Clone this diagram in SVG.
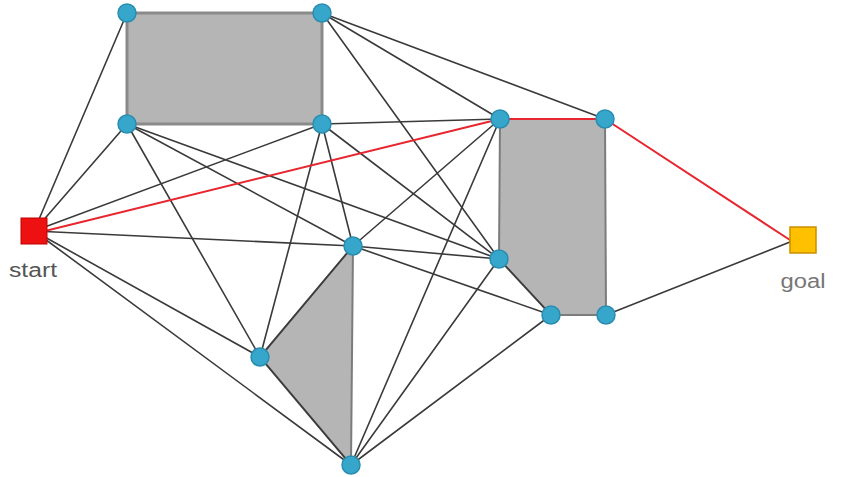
<svg xmlns="http://www.w3.org/2000/svg" width="850" height="477" viewBox="0 0 850 477">
<style>
.obs{fill:#b5b5b5;stroke:#7c7c7c;stroke-width:2;stroke-linejoin:round}
.rectobs{fill:#b5b5b5;stroke:#8a8a8a;stroke-width:3}
.e{stroke:#3a3a3a;stroke-width:1.6;fill:none;stroke-linecap:round}
.p{stroke:#e8262f;stroke-width:2;fill:none;stroke-linecap:round}
.n{fill:#36a7cb;stroke:#2a8db0;stroke-width:1.5}
.lbl{font-family:"Liberation Sans","DejaVu Sans",sans-serif;font-size:20px;text-anchor:middle}
</style>
<rect width="850" height="477" fill="#ffffff"/>
<g id="obstacles">
<rect id="obstacle1" class="rectobs" x="127" y="13" width="195" height="111"/>
<polygon id="obstacle2" class="obs" points="500,119 605,119 606,315 551,315 499,259"/>
<polygon id="obstacle3" class="obs" points="353,246 351,465 260,357"/>
</g>
<g id="connectors">
<line class="e" x1="34" y1="231" x2="127" y2="13"/>
<line class="e" x1="34" y1="231" x2="127" y2="124"/>
<line class="e" x1="34" y1="231" x2="322" y2="124"/>
<line class="e" x1="34" y1="231" x2="353" y2="246"/>
<line class="e" x1="34" y1="231" x2="260" y2="357"/>
<line class="e" x1="34" y1="231" x2="351" y2="465"/>
<line class="e" x1="322" y1="13" x2="500" y2="119"/>
<line class="e" x1="322" y1="13" x2="605" y2="119"/>
<line class="e" x1="322" y1="13" x2="499" y2="259"/>
<line class="e" x1="127" y1="124" x2="260" y2="357"/>
<line class="e" x1="127" y1="124" x2="353" y2="246"/>
<line class="e" x1="127" y1="124" x2="499" y2="259"/>
<line class="e" x1="322" y1="124" x2="500" y2="119"/>
<line class="e" x1="322" y1="124" x2="260" y2="357"/>
<line class="e" x1="322" y1="124" x2="353" y2="246"/>
<line class="e" x1="322" y1="124" x2="499" y2="259"/>
<line class="e" x1="500" y1="119" x2="353" y2="246"/>
<line class="e" x1="500" y1="119" x2="351" y2="465"/>
<line class="e" x1="353" y1="246" x2="499" y2="259"/>
<line class="e" x1="351" y1="465" x2="499" y2="259"/>
<line class="e" x1="353" y1="246" x2="551" y2="315"/>
<line class="e" x1="351" y1="465" x2="551" y2="315"/>
<line class="e" x1="353" y1="246" x2="260" y2="357"/>
<line class="e" x1="260" y1="357" x2="351" y2="465"/>
<line class="e" x1="499" y1="259" x2="551" y2="315"/>
<line class="e" x1="606" y1="315" x2="790" y2="242"/>
<line class="p" x1="45" y1="231" x2="500" y2="119"/>
<line class="p" x1="500" y1="119" x2="605" y2="119"/>
<line class="p" x1="605" y1="119" x2="790" y2="240"/>
</g>
<g id="nodes">
<g id="A"><circle class="n" cx="127" cy="13" r="9"/></g>
<g id="B"><circle class="n" cx="322" cy="13" r="9"/></g>
<g id="C"><circle class="n" cx="127" cy="124" r="9"/></g>
<g id="D"><circle class="n" cx="322" cy="124" r="9"/></g>
<g id="E"><circle class="n" cx="500" cy="119" r="9"/></g>
<g id="F"><circle class="n" cx="605" cy="119" r="9"/></g>
<g id="G"><circle class="n" cx="499" cy="259" r="9"/></g>
<g id="H"><circle class="n" cx="551" cy="315" r="9"/></g>
<g id="I"><circle class="n" cx="606" cy="315" r="9"/></g>
<g id="J"><circle class="n" cx="353" cy="246" r="9"/></g>
<g id="K"><circle class="n" cx="260" cy="357" r="9"/></g>
<g id="L"><circle class="n" cx="351" cy="465" r="9"/></g>
<g id="start">
<rect x="21" y="218" width="26" height="26" fill="#ee1111" stroke="#c00000" stroke-width="1"/>
<text class="lbl" x="33" y="277" fill="#555555" textLength="48" lengthAdjust="spacingAndGlyphs">start</text>
</g>
<g id="goal">
<rect x="790" y="227" width="26" height="26" fill="#ffc000" stroke="#c98f00" stroke-width="1.5"/>
<text class="lbl" x="803" y="288" fill="#777777" textLength="45" lengthAdjust="spacingAndGlyphs">goal</text>
</g>
</g>
</svg>
